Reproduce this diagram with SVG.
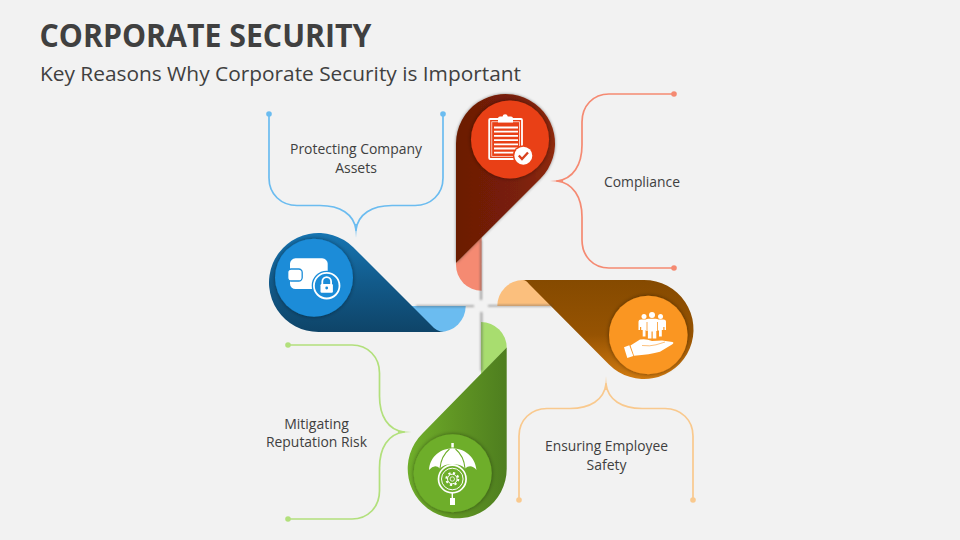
<svg xmlns="http://www.w3.org/2000/svg" width="960" height="540" viewBox="0 0 960 540">
<style>
.t{font-family:"Open Sans","Liberation Sans",sans-serif;fill:#404040}
.title{font-size:32px;font-weight:700}
.sub{font-size:20.500px}
.lb{font-size:14px;text-anchor:middle}
.br{fill:none;stroke-width:1.700;stroke-linecap:round}
.w{fill:#fff}
.ws{fill:none;stroke:#fff}
</style>
<defs>
<linearGradient id="gr" gradientUnits="userSpaceOnUse" x1="456" y1="0" x2="555" y2="0"><stop offset="0" stop-color="#6b1c05"/><stop offset=".65" stop-color="#7a2008"/><stop offset="1" stop-color="#8f2a10"/></linearGradient>
<linearGradient id="gb" gradientUnits="userSpaceOnUse" x1="0" y1="332" x2="0" y2="233"><stop offset="0" stop-color="#0e4468"/><stop offset=".5" stop-color="#125a8a"/><stop offset="1" stop-color="#1675b2"/></linearGradient>
<linearGradient id="go" gradientUnits="userSpaceOnUse" x1="0" y1="280" x2="0" y2="379"><stop offset="0" stop-color="#854a00"/><stop offset=".55" stop-color="#965302"/><stop offset="1" stop-color="#d07a10"/></linearGradient>
<linearGradient id="gg" gradientUnits="userSpaceOnUse" x1="507" y1="0" x2="408" y2="0"><stop offset="0" stop-color="#4e7e1f"/><stop offset=".5" stop-color="#5f9423"/><stop offset="1" stop-color="#6fae2a"/></linearGradient>
<filter id="cs" x="-20%" y="-20%" width="140%" height="140%"><feDropShadow dx="0" dy="0" stdDeviation="2" flood-color="#000" flood-opacity=".45"/></filter>
<filter id="ps" x="-15%" y="-15%" width="130%" height="130%"><feDropShadow dx="0" dy="0" stdDeviation="1.600" flood-color="#000" flood-opacity=".45"/></filter>
<filter id="bl" x="-300%" y="-300%" width="700%" height="700%"><feGaussianBlur stdDeviation=".9"/></filter>
</defs>
<rect width="960" height="540" fill="#f2f2f2"/>
<text class="t title" x="39.500" y="46.500" textLength="332" lengthAdjust="spacingAndGlyphs">CORPORATE SECURITY</text>
<text class="t sub" x="40" y="80.500" textLength="481" lengthAdjust="spacingAndGlyphs">Key Reasons Why Corporate Security is Important</text>

<g id="connectors">
<g stroke="#6bbcf0" fill="#6bbcf0">
<path class="br" d="M269 114V178C269 194 281 205.500 297 205.500H320C340 205.500 354 214 356 230"/>
<path class="br" d="M443 114V178C443 194 431 205.500 415 205.500H392C372 205.500 358 214 356 230"/>
<path stroke="none" d="M355 224L356 237.500L357 224Z"/>
<circle cx="269" cy="114" r="2.800" stroke="none"/><circle cx="443" cy="114" r="2.800" stroke="none"/>
</g>
<g stroke="#f58a72" fill="#f58a72">
<path class="br" d="M674 94H609C593 94 582 106 582 122V145C582 165 573 179 557 181"/>
<path class="br" d="M674 268H609C593 268 582 256 582 240V217C582 197 573 183 557 181"/>
<path stroke="none" d="M563 180L550 181L563 182Z"/>
<circle cx="674" cy="94" r="2.800" stroke="none"/><circle cx="674" cy="268" r="2.800" stroke="none"/>
</g>
<g stroke="#f9c98e" fill="#f9c98e">
<path class="br" d="M519 500V436C519 420 531 408.500 547 408.500H570C590 408.500 604 400 606 384"/>
<path class="br" d="M693 500V436C693 420 681 408.500 665 408.500H642C622 408.500 608 400 606 384"/>
<path stroke="none" d="M605 390L606 376.500L607 390Z"/>
<circle cx="519" cy="500" r="2.800" stroke="none"/><circle cx="693" cy="500" r="2.800" stroke="none"/>
</g>
<g stroke="#b2e07c" fill="#b2e07c">
<path class="br" d="M288 345H352C368 345 379.500 357 379.500 373V396C379.500 416 388 430 404 432"/>
<path class="br" d="M288 519H352C368 519 379.500 507 379.500 491V468C379.500 448 388 434 404 432"/>
<path stroke="none" d="M398 431L411.500 432L398 433Z"/>
<circle cx="288" cy="345" r="2.800" stroke="none"/><circle cx="288" cy="519" r="2.800" stroke="none"/>
</g>
</g>

<g id="node-assets">
<path fill="#6bbcf0" d="M405 306H465.700A26 26 0 0 1 439.700 332H425Z"/>
<path fill="url(#gb)" d="M353.500 247.500A49.500 49.500 0 1 0 318.500 332H444Q437 332 431 325Z"/>
<circle cx="314" cy="277.700" r="39" fill="#1a8cd8" filter="url(#cs)"/>
<rect x="290" y="258.300" width="37.700" height="30.700" rx="5.500" class="w"/>
<rect x="287.700" y="269" width="14.500" height="12" rx="3.500" class="w" stroke="#1a8cd8" stroke-width="1.300"/>
<circle cx="326.700" cy="285.700" r="15" fill="#1a8cd8"/>
<circle cx="326.700" cy="285.700" r="12.800" class="ws" stroke-width="1.800"/>
<path class="ws" stroke-width="1.800" d="M322.300 285V281.500a4.400 4.400 0 0 1 8.800 0V285"/>
<rect x="320.500" y="284" width="12.400" height="8.800" rx="1.200" class="w"/>
<circle cx="326.700" cy="288" r="1.400" fill="#1a8cd8"/>
<text class="t lb" x="356" y="154" textLength="132" lengthAdjust="spacingAndGlyphs">Protecting Company</text>
<text class="t lb" x="356" y="173">Assets</text>
</g>

<g id="node-compliance">
<path fill="#f58a72" d="M456 263L481.600 237V290.700A25.700 25.700 0 0 1 456 265Z"/>
<path fill="url(#gr)" filter="url(#ps)" d="M456 263V143.500A49.500 49.500 0 1 1 540.500 178.500Z"/>
<circle cx="510" cy="139.500" r="39" fill="#e94116" filter="url(#cs)"/>
<rect x="489.200" y="119" width="32.800" height="40" rx="1" class="ws" stroke-width="1.800"/>
<rect x="491.800" y="121.800" width="27.600" height="34.500" class="ws" stroke-width=".7"/>
<path class="w" d="M498 122.500V118.500Q498 116.500 500 116.500H502.500A2.700 2.700 0 0 1 507.800 116.500H511Q513 116.500 513 118.500V122.500Z"/>
<path class="ws" stroke-width="1.800" d="M494 127.500H518M494 131.700H518M494 135.900H518M494 140.100H518M494 144.300H518M494 148.500H518M494 152.700H518"/>
<circle cx="523.300" cy="155.700" r="10.500" fill="#e94116"/>
<circle cx="523.300" cy="155.700" r="9" class="w"/>
<path fill="none" stroke="#d8411e" stroke-width="2.300" d="M518.800 155.500L522 159L528 152.500"/>
<text class="t lb" x="642" y="187" textLength="76" lengthAdjust="spacingAndGlyphs">Compliance</text>
</g>

<g id="node-safety">
<path fill="#fbbf7d" d="M523 280A26 26 0 0 0 497.300 306H556L530 280Z"/>
<path fill="url(#go)" d="M523 280H644A49.500 49.500 0 1 1 609 364.500L529 284Q526 280 523 280Z"/>
<circle cx="648.300" cy="335" r="39.300" fill="#fa9623" filter="url(#cs)"/>
<g class="w">
<circle cx="644" cy="316.500" r="2.500"/><circle cx="660.500" cy="316.500" r="2.500"/><circle cx="652" cy="315" r="3"/>
<path d="M638.500 321.500Q638.500 319.500 641 319.500H647V330H645.500V336.500H642.700V330H641.200V327H640V330H638.500Z"/>
<path d="M666 321.500Q666 319.500 663.500 319.500H657.500V330H659V336.500H661.800V330H663.300V327H664.500V330H666Z"/>
<path d="M645.700 321Q645.700 318.700 648 318.700H656Q658.500 318.700 658.500 321V331H656.300V338.500H652.700V331.500H651.500V338.500H647.900V331H645.700Z"/>
<path d="M624 347.300L629.300 345.300L633.300 356L627.300 358Z"/>
<path d="M630.500 345.500L640 339.600Q646 338.500 652 341L662 340.500L672.500 342Q674.500 342.800 672 344.500L660 351.700Q650 354.500 634 355.800Z"/>
</g>
<path fill="none" stroke="#fa9623" stroke-width=".6" d="M642 345.500Q650 346.500 656 344.800L665 342"/>
<path fill="none" stroke="#fa9623" stroke-width=".8" d="M647 322V331M657.500 322V331"/>
<text class="t lb" x="606.500" y="451" textLength="123" lengthAdjust="spacingAndGlyphs">Ensuring Employee</text>
<text class="t lb" x="606.500" y="470">Safety</text>
</g>

<g id="node-reputation">
<path fill="#a8dd6f" d="M481 322A25.700 25.700 0 0 1 506.700 347.700L481 374Z"/>
<path fill="url(#gg)" d="M506.700 347.500V468.500A49.500 49.500 0 1 1 422.500 433.500Z"/>
<circle cx="452.700" cy="473.300" r="39" fill="#6eae2a" filter="url(#cs)"/>
<rect x="451.300" y="443" width="2.500" height="4.500" class="w"/>
<path class="w" d="M429 470C430 456 441 448.500 452.500 448.200C464 448.500 475 456 476.500 470Q471 463.500 465 468.500Q459.500 463 452.500 465Q445.500 463 440 468.500Q434.500 463.500 429 470Z"/>
<path fill="none" stroke="#6eae2a" stroke-width="1.100" d="M449.500 449Q441 456 440 468.500M455.500 449Q464 456 465 468.500"/>
<circle cx="452.300" cy="479" r="13.800" fill="#6eae2a" stroke="#fff" stroke-width="1.700"/>
<circle cx="452.300" cy="479" r="10.800" class="ws" stroke-width="1"/>
<circle cx="452.300" cy="479" r="6" class="ws" stroke-width="2" stroke-dasharray="2.200 2.510"/>
<circle cx="452.300" cy="479" r="4.800" class="ws" stroke-width="1"/>
<circle cx="452.300" cy="479" r="2.200" class="ws" stroke-width=".8"/>
<path class="ws" stroke-width="1.400" d="M452.300 492.800V498"/>
<rect x="450" y="498" width="5" height="7" class="w"/>
<text class="t lb" x="316.500" y="428.500">Mitigating</text>
<text class="t lb" x="316.500" y="447" textLength="101" lengthAdjust="spacingAndGlyphs">Reputation Risk</text>
</g>

<g id="center-shadows" fill="#4a4a4a" filter="url(#bl)" opacity=".55">
<rect x="480.200" y="240" width="1.800" height="60"/>
<rect x="480.500" y="312" width="1.800" height="59"/>
<rect x="416" y="305.400" width="58" height="1.500"/>
<rect x="488" y="305" width="64" height="1.500"/>
</g>
</svg>
